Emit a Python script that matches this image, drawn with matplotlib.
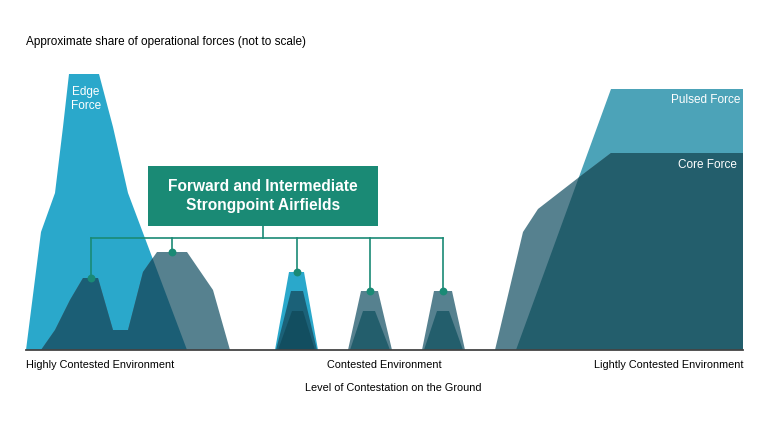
import numpy as np
import matplotlib
matplotlib.use('Agg')
import matplotlib.pyplot as plt
from matplotlib.patches import Polygon, Rectangle

plt.rcParams['font.family'] = ['Liberation Sans', 'DejaVu Sans']

# shapes: x position along the contestation axis, height = share of forces
edge_x = [26, 41, 55, 63, 69, 99, 113, 128, 187]
edge_h = [0, 118, 157, 223, 276, 276, 223, 157, 0]

strong_x = [41, 55, 70, 83, 98, 113, 128, 143, 157, 187, 213, 230]
strong_h = [0, 20, 50, 72, 72, 20, 20, 78, 98, 98, 60, 0]

# airfield peaks: (base left, top left, top right, base right)
peak_edge = [(275, 289, 304, 318)]
peak_edge_h = 78
peak_mid = [(276, 291, 303, 317), (348, 361, 378, 392), (422, 434, 452, 465)]
peak_mid_h = 59
peak_core = [(278, 292, 303, 315), (350, 363, 375, 390), (424, 437, 449, 463)]
peak_core_h = 39

core_x = [495, 523, 538, 578, 611, 743, 743]
core_h = [0, 118, 141, 172, 197, 197, 0]
pulsed_x = [516, 611, 743, 743]
pulsed_h = [0, 261, 261, 0]

LIGHT = '#2aa8cb'
GRAY = '#56818f'
DARK = '#1b5e75'
CORE_DARK = '#235e6c'
DEEP = '#124e60'
PULSED = '#4ca3b8'
GREEN = '#1a8a75'

fig = plt.figure(figsize=(7.68, 4.32), dpi=100)
ax = fig.add_axes([0, 0, 1, 1])
ax.set_xlim(0, 768)
ax.set_ylim(-82, 350)
ax.axis('off')


def poly(xs, hs, color, z=1, clip=None):
    p = Polygon(np.column_stack([xs, hs]), closed=True, facecolor=color,
                edgecolor='none', zorder=z)
    ax.add_patch(p)
    if clip is not None:
        p.set_clip_path(clip)
    return p


def trap(t, h, color, z):
    return poly([t[0], t[1], t[2], t[3]], [0, h, h, 0], color, z)


# left side
edge_p = poly(edge_x, edge_h, LIGHT, 1)
poly(strong_x, strong_h, GRAY, 2)
poly(strong_x, strong_h, DARK, 3, clip=edge_p)

# middle airfields
for t in peak_edge:
    trap(t, peak_edge_h, LIGHT, 1)
for i, t in enumerate(peak_mid):
    trap(t, peak_mid_h, '#1b6178' if i == 0 else GRAY, 2)
for i, t in enumerate(peak_core):
    trap(t, peak_core_h, DEEP if i == 0 else CORE_DARK, 3)

# right side
pulsed_p = poly(pulsed_x, pulsed_h, PULSED, 1)
poly(core_x, core_h, GRAY, 2)
poly(core_x, core_h, CORE_DARK, 3, clip=pulsed_p)

# baseline
ax.plot([26, 743], [0, 0], color='#444444', lw=1.3, zorder=4)

# connectors to airfields
dot_x = [(strong_x[3] + strong_x[4]) / 2, (strong_x[8] + strong_x[9]) / 2,
         (peak_edge[0][1] + peak_edge[0][2]) / 2,
         (peak_mid[1][1] + peak_mid[1][2]) / 2,
         (peak_mid[2][1] + peak_mid[2][2]) / 2]
dot_h = [strong_h[3], strong_h[8], peak_edge_h, peak_mid_h, peak_mid_h]
bar_h = 112
ax.plot([min(dot_x), max(dot_x)], [bar_h, bar_h], color=GREEN, lw=1.2, zorder=5)
for x, h in zip(dot_x, dot_h):
    ax.plot([x, x], [h, bar_h], color=GREEN, lw=1.2, zorder=5)
ax.scatter(dot_x, dot_h, s=32, color=GREEN, zorder=6, linewidths=0)
ax.plot([263, 263], [bar_h, 124], color=GREEN, lw=1.2, zorder=5)
ax.add_patch(Rectangle((148, 124), 230, 60, facecolor=GREEN, edgecolor='none', zorder=6))
ax.text(263, 154, 'Forward and Intermediate\nStrongpoint Airfields', color='white',
        fontsize=11.2, fontweight='bold', ha='center', va='center',
        linespacing=1.3, zorder=7)

# labels
ax.text(26, 308, 'Approximate share of operational forces (not to scale)',
        fontsize=8.5, ha='left', va='center')
ax.text(86, 251, 'Edge\nForce', color='white', fontsize=8.5, ha='center',
        va='center', linespacing=1.15, zorder=7)
ax.text(740, 250, 'Pulsed Force', color='white', fontsize=8.5, ha='right',
        va='center', zorder=7)
ax.text(737, 185, 'Core Force', color='white', fontsize=8.5, ha='right',
        va='center', zorder=7)
ax.text(26, -15, 'Highly Contested Environment', fontsize=7.8, ha='left', va='center')
ax.text(384, -15, 'Contested Environment', fontsize=7.8, ha='center', va='center')
ax.text(743, -15, 'Lightly Contested Environment', fontsize=7.8, ha='right', va='center')
ax.text(393, -38, 'Level of Contestation on the Ground', fontsize=7.8,
        ha='center', va='center')

fig.savefig('out.png', dpi=100)
